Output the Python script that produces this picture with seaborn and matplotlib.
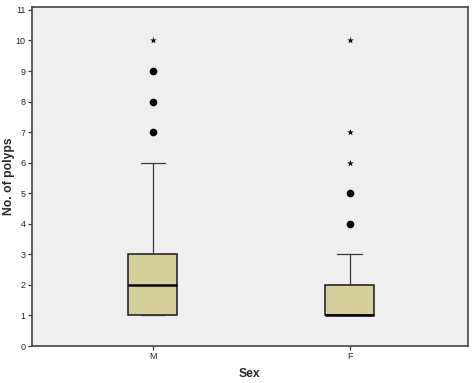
import numpy as np
import pandas as pd
import matplotlib
matplotlib.use("Agg")
import matplotlib.pyplot as plt
import seaborn as sns

# raw counts per sex (quartiles, whiskers, outliers)
sex_order = ["M", "F"]
polyps_m = [1]*11 + [2]*10 + [3]*10 + [4, 4, 4, 5, 5, 6, 7, 8, 9, 10]
polyps_f = [1]*23 + [2]*8 + [2, 2, 3, 3, 3, 4, 5, 6, 7, 10]
y_ticks = list(range(0, 12))

df = pd.DataFrame({
    "Sex": ["M"]*len(polyps_m) + ["F"]*len(polyps_f),
    "polyps": polyps_m + polyps_f,
})

# SPSS style outliers: circle beyond 1.5 IQR, star beyond 3 IQR
rows = []
for s, grp in df.groupby("Sex"):
    q1, q3 = np.percentile(grp["polyps"], [25, 75])
    iqr = q3 - q1
    for v in sorted(set(grp["polyps"])):
        if v > q3 + 3*iqr:
            rows.append((s, v, "extreme"))
        elif v > q3 + 1.5*iqr:
            rows.append((s, v, "outlier"))
out = pd.DataFrame(rows, columns=["Sex", "polyps", "kind"])

sns.set_style("white")
plt.rcParams["font.family"] = ["Liberation Sans", "DejaVu Sans"]

fig = plt.figure(figsize=(4.74, 3.83), dpi=100)
ax = fig.add_axes([0.0675, 0.0966, 0.9195, 0.8854])
ax.set_facecolor("#efefef")

sns.boxplot(data=df, x="Sex", y="polyps", order=sex_order, ax=ax,
            whis=1.5, showfliers=False, width=0.25, color="#d5cf9c",
            saturation=1,
            boxprops=dict(edgecolor="#1a1a1a", linewidth=1.1),
            medianprops=dict(color="black", linewidth=1.8),
            whiskerprops=dict(color="#3a3a3a", linewidth=0.9),
            capprops=dict(color="#3a3a3a", linewidth=0.9))

sns.stripplot(data=out[out["kind"] == "outlier"], x="Sex", y="polyps",
              order=sex_order, jitter=False, color="black", size=5.5,
              marker="o", linewidth=0, ax=ax)
sns.stripplot(data=out[out["kind"] == "extreme"], x="Sex", y="polyps",
              order=sex_order, jitter=False, color="black", size=5,
              marker="*", linewidth=0, ax=ax)

ax.set_xlim(-0.614, 1.6)
ax.set_ylim(0, 11.1)
ax.set_yticks(y_ticks)
ax.tick_params(axis="both", labelsize=6.5, length=3, width=0.9,
               direction="out", color="#333333", pad=1.5, left=True, bottom=True)
for sp in ax.spines.values():
    sp.set_color("#444444")
    sp.set_linewidth(1.2)

ax.set_xlabel("Sex", fontsize=8.7, fontweight="bold")
ax.set_ylabel("No. of polyps", fontsize=8.7, fontweight="bold")
ax.xaxis.set_label_coords(0.5, -0.065)
ax.yaxis.set_label_coords(-0.04, 0.5)

fig.savefig("out.png", dpi=100)
